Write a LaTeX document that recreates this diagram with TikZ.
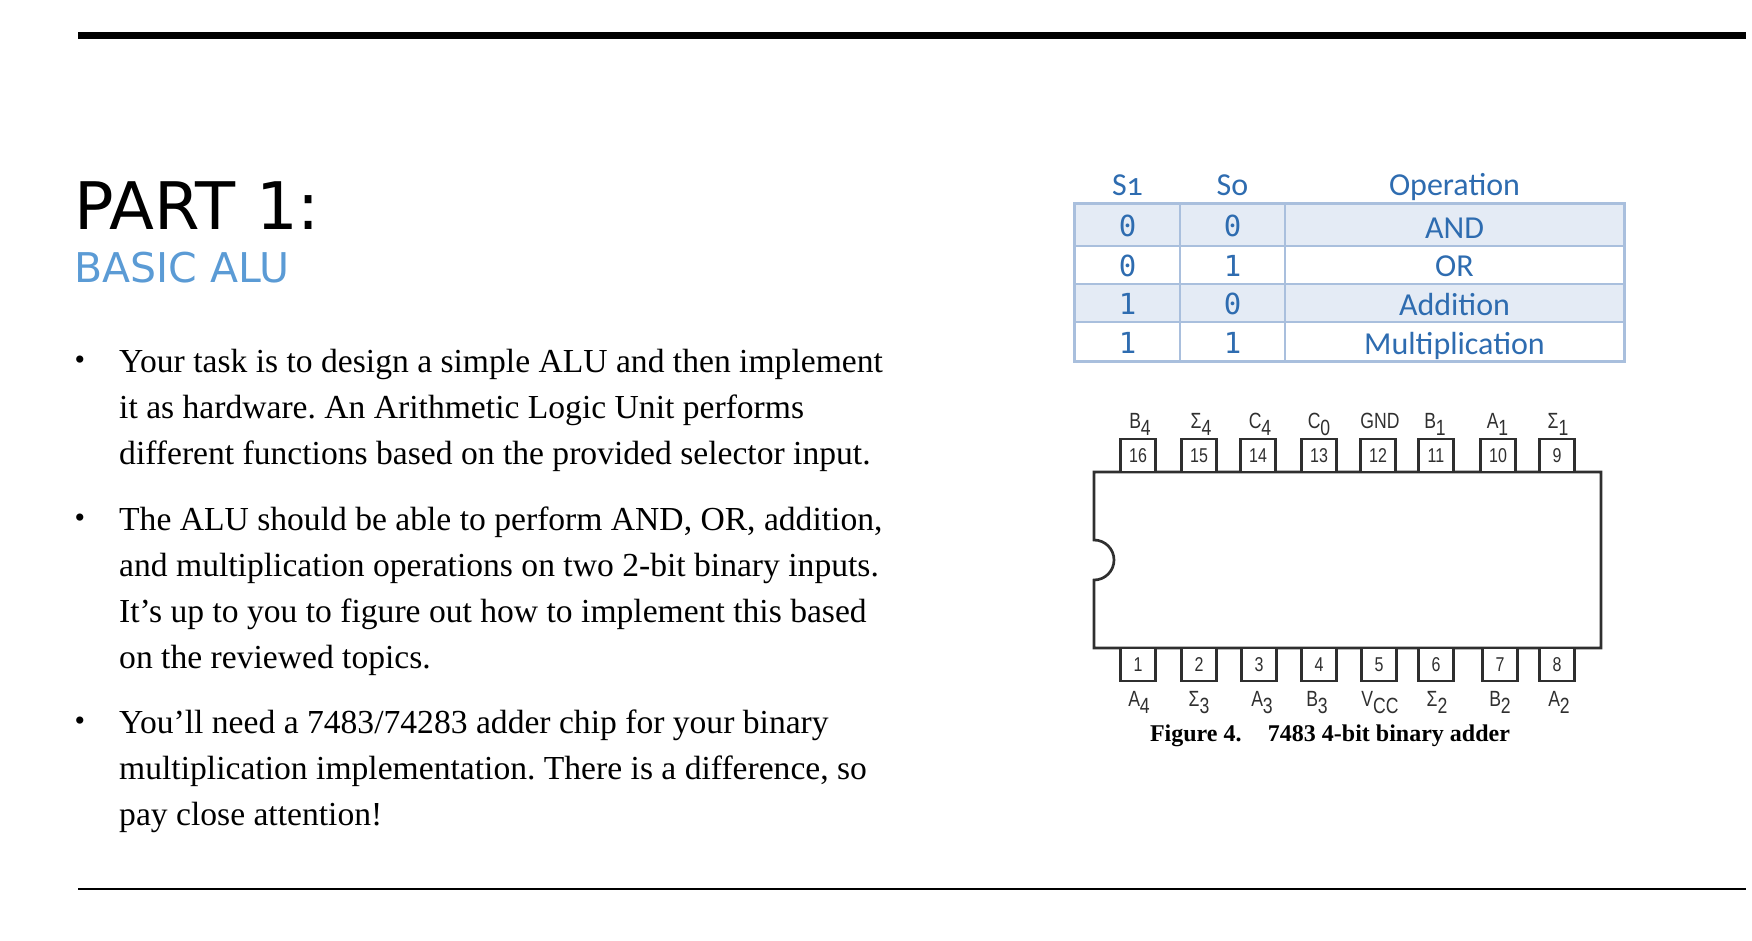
\documentclass[tikz,border=0pt]{standalone}
\usepackage{fontspec}
\setmainfont{Liberation Serif}
\newfontfamily\headfont{DejaVu Sans}
\newfontfamily\tablefont[Numbers=OldStyle]{Carlito}
\newfontfamily\bitfont{DejaVu Sans Mono}
\newfontfamily\pinfont[FakeStretch=0.8]{Liberation Sans}
\usetikzlibrary{fit,positioning}
\definecolor{tabletext}{HTML}{2E6CB0}
\definecolor{tableline}{HTML}{A9BFDD}
\definecolor{tablefill}{HTML}{E4EBF5}
\definecolor{subtitle}{HTML}{5B9BD5}
\definecolor{chipline}{HTML}{2F2F2F}
\newcommand{\pinsub}[2]{#1\raisebox{-0.32em}{#2}}
\frenchspacing
\tikzset{
  headline/.style={anchor=base west, inner sep=0pt, font=\headfont},
  para/.style={anchor=north west, align=left, inner sep=0pt, font=\fontsize{33.6}{45.8}\selectfont},
  dotmark/.style={anchor=base, inner sep=0pt, font=\fontsize{30}{36}\selectfont},
  cell/.style={draw=tableline, line width=1.5pt, inner sep=0pt, text=tabletext, text height=26pt, text depth=0pt, font=\tablefont\fontsize{32}{34}\selectfont},
  bitcell/.style={cell, text height=23pt, font=\bitfont\fontsize{29}{32}\selectfont},
  hcell/.style={anchor=base, inner sep=0pt, text=tabletext, font=\tablefont\fontsize{32}{34}\selectfont},
  pinbox/.style={draw=chipline, line width=2.7pt, fill=white, inner sep=0pt, minimum width=35pt, minimum height=33pt, text=chipline, font=\pinfont\fontsize{20}{24}\selectfont},
  pinlabel/.style={anchor=base, inner sep=0pt, text=chipline, font=\pinfont\fontsize{22}{24}\selectfont}
}
\begin{document}
\begin{tikzpicture}[x=1pt, y=-1pt]
    \useasboundingbox (0,0) rectangle (1752,940);
    % rules
    \draw [line width=7pt] (78,35) -- (1746,35);
    \draw [line width=2pt] (78,889) -- (1746,889);
    % titles
    \node (Part) [headline, font=\headfont\fontsize{65.6}{70}\selectfont] at (74,229) {PART 1:};
    \node (Basic) [headline, text=subtitle, font=\headfont\fontsize{41}{44}\selectfont] at (74,282) {BASIC ALU};
    % text
    \node (Dot1) [dotmark] at (80,369) {•};
    \node (Dot2) [dotmark] at (80,527) {•};
    \node (Dot3) [dotmark] at (80,730) {•};
    \node (Para1) [para] at (119,349) {Your task is to design a simple ALU and then implement\\it as hardware. An Arithmetic Logic Unit performs\\different functions based on the provided selector input.};
    \node (Para2) [para] at (119,507) {The ALU should be able to perform AND, OR, addition,\\and multiplication operations on two 2-bit binary inputs.\\It’s up to you to figure out how to implement this based\\on the reviewed topics.};
    \node (Para3) [para] at (119,710) {You’ll need a 7483/74283 adder chip for your binary\\multiplication implementation. There is a difference, so\\pay close attention!};
    % table
    \node (HeadA) [hcell] at (1127.5,195) {S1};
    \node (HeadB) [hcell] at (1232.5,195) {So};
    \node (HeadC) [hcell] at (1454.5,195) {Operation};
    \node (A1) [bitcell, fill=tablefill, minimum width=105pt, minimum height=42pt] at (1127.5,225) {0};
    \node (B1) [bitcell, fill=tablefill, minimum width=105pt, minimum height=42pt] at (1232.5,225) {0};
    \node (C1) [cell, fill=tablefill, minimum width=339pt, minimum height=42pt] at (1454.5,225) {AND};
    \node (A2) [bitcell, minimum width=105pt, minimum height=38pt] at (1127.5,265) {0};
    \node (B2) [bitcell, minimum width=105pt, minimum height=38pt] at (1232.5,265) {1};
    \node (C2) [cell, text height=22pt, minimum width=339pt, minimum height=38pt] at (1454.5,265) {OR};
    \node (A3) [bitcell, fill=tablefill, minimum width=105pt, minimum height=38pt] at (1127.5,303) {1};
    \node (B3) [bitcell, fill=tablefill, minimum width=105pt, minimum height=38pt] at (1232.5,303) {0};
    \node (C3) [cell, text height=24pt, fill=tablefill, minimum width=339pt, minimum height=38pt] at (1454.5,303) {Addition};
    \node (A4) [bitcell, minimum width=105pt, minimum height=39pt] at (1127.5,341.5) {1};
    \node (B4) [bitcell, minimum width=105pt, minimum height=39pt] at (1232.5,341.5) {1};
    \node (C4) [cell, minimum width=339pt, minimum height=39pt] at (1454.5,341.5) {Multiplication};
    \node (Frame) [draw=tableline, line width=3pt, inner sep=0pt, fit=(A1)(C4)] {};
    % chip
    \draw [chipline, line width=2.7pt] (1094,472) -- (1601,472) -- (1601,648) -- (1094,648) -- (1094,580) arc[start angle=-90, end angle=90, radius=20pt] -- cycle;
    % pins
    \node (Pin16) [pinbox] at (1138,455.5) {16};
    \node (Pin15) [pinbox] at (1199,455.5) {15};
    \node (Pin14) [pinbox] at (1258,455.5) {14};
    \node (Pin13) [pinbox] at (1319,455.5) {13};
    \node (Pin12) [pinbox] at (1378,455.5) {12};
    \node (Pin11) [pinbox] at (1436,455.5) {11};
    \node (Pin10) [pinbox] at (1498,455.5) {10};
    \node (Pin9)  [pinbox] at (1557,455.5) {9};
    \node (Pin1) [pinbox] at (1138,664.5) {1};
    \node (Pin2) [pinbox] at (1199,664.5) {2};
    \node (Pin3) [pinbox] at (1259,664.5) {3};
    \node (Pin4) [pinbox] at (1319,664.5) {4};
    \node (Pin5) [pinbox] at (1379,664.5) {5};
    \node (Pin6) [pinbox] at (1436,664.5) {6};
    \node (Pin7) [pinbox] at (1500,664.5) {7};
    \node (Pin8) [pinbox] at (1557,664.5) {8};
    % pin labels
    \node (LabB4) [pinlabel] at (1140,428) {\pinsub{B}{4}};
    \node (LabS4) [pinlabel] at (1201,428) {\pinsub{Σ}{4}};
    \node (LabC4) [pinlabel] at (1260,428) {\pinsub{C}{4}};
    \node (LabC0) [pinlabel] at (1319,428) {\pinsub{C}{0}};
    \node (LabGnd) [pinlabel] at (1380,428) {GND};
    \node (LabB1) [pinlabel] at (1435,428) {\pinsub{B}{1}};
    \node (LabA1) [pinlabel] at (1497.5,428) {\pinsub{A}{1}};
    \node (LabS1) [pinlabel] at (1558,428) {\pinsub{Σ}{1}};
    \node (LabA4) [pinlabel] at (1139,706) {\pinsub{A}{4}};
    \node (LabS3) [pinlabel] at (1199,706) {\pinsub{Σ}{3}};
    \node (LabA3) [pinlabel] at (1262,706) {\pinsub{A}{3}};
    \node (LabB3) [pinlabel] at (1317,706) {\pinsub{B}{3}};
    \node (LabVcc) [pinlabel] at (1380,706) {\pinsub{V}{CC}};
    \node (LabS2) [pinlabel] at (1437,706) {\pinsub{Σ}{2}};
    \node (LabB2) [pinlabel] at (1500,706) {\pinsub{B}{2}};
    \node (LabA2) [pinlabel] at (1559,706) {\pinsub{A}{2}};
    % caption
    \node (Caption) [anchor=base, inner sep=0pt, font=\bfseries\fontsize{24}{26}\selectfont] at (1330,741) {Figure 4.\hspace{1.1em}7483 4-bit binary adder};
\end{tikzpicture}
\end{document}
